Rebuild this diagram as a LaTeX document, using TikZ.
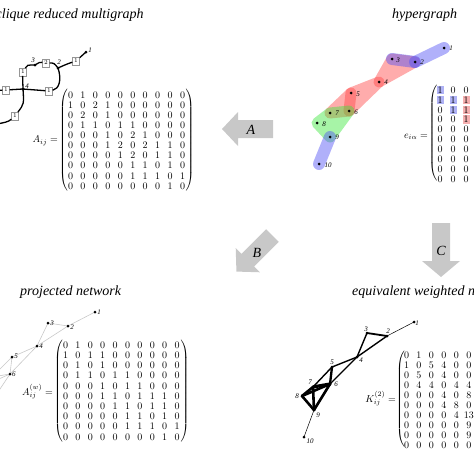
\documentclass[tikz,border=0pt]{standalone}
\usepackage{fontspec}
\newfontfamily\tms{Liberation Serif}
\usetikzlibrary{calc}
\definecolor{arrowgray}{RGB}{200,200,200}
\definecolor{hblue}{RGB}{80,80,245}
\definecolor{hred}{RGB}{255,70,70}
\definecolor{hgreen}{RGB}{60,230,60}
\definecolor{pgray}{RGB}{200,200,200}
\definecolor{boxblue}{RGB}{175,178,245}
\definecolor{boxred}{RGB}{245,175,175}
\definecolor{wboxgray}{RGB}{150,150,150}

\newcommand\mymat[6]{%
  \foreach \mrow [count=\mi] in {#6} {%
    \foreach \mval [count=\mj] in \mrow {%
      \node[ent] (#1-\mi-\mj) at ({#2+(\mj-1)*#4},{#3+(\mi-1)*#5}) {$\mval$};
    }%
  }%
}

\begin{document}
\begin{tikzpicture}[x=1pt,y=-1pt,
  title/.style={font=\tms\itshape\fontsize{14}{16}\selectfont, anchor=base west, inner sep=0pt},
  dot/.style={circle, fill=black, inner sep=0pt, minimum size=3pt},
  lbl/.style={font=\tms\itshape\fontsize{7}{7}\selectfont, inner sep=0pt},
  wbox/.style={draw=wboxgray, fill=white, line width=0.4pt, inner sep=0pt, minimum width=7pt, minimum height=7.5pt, font=\fontsize{6}{6}\selectfont},
  ent/.style={font=\fontsize{10}{11}\selectfont, inner sep=0pt},
  zs/.style={},
  bs/.style={fill=boxblue, minimum width=7pt, minimum height=8.5pt},
  rs/.style={fill=boxred, minimum width=7pt, minimum height=8.5pt},
  matlbl/.style={font=\fontsize{10}{11}\selectfont, anchor=east, inner sep=0pt},
  paren/.style={inner sep=0pt, font=\fontsize{10}{11}\selectfont},
  arrlbl/.style={font=\tms\itshape\fontsize{14}{16}\selectfont, inner sep=0pt},
  blockarrow/.style={fill=arrowgray},
  medge/.style={line width=1.3pt, black},
  pedge/.style={line width=0.6pt, pgray},
  hedge/.style={line width=12pt, line cap=round, line join=round},
]
\useasboundingbox (0,0) rectangle (474,474);
\clip (0,0) rectangle (474,474);

% ---------- titles ----------
\node[title] (t1) at (-4.5,18) {clique reduced multigraph};
\node[title] (t2) at (392,18) {hypergraph};
\node[title] (t3) at (20,295) {projected network};
\node[title] (t4) at (352,295) {equivalent weighted network};

% ---------- block arrows ----------
\fill[blockarrow, shift={(273,129)}, rotate=180] (0,-9) -- (35,-9) -- (35,-17) -- (51,0) -- (35,17) -- (35,9) -- (0,9) -- cycle;
\node[arrlbl] (la) at (251,130) {A};
\fill[blockarrow, shift={(272.5,235.5)}, rotate=225] (0,-9) -- (35,-9) -- (35,-17) -- (51,0) -- (35,17) -- (35,9) -- (0,9) -- cycle;
\node[arrlbl] (lb) at (257,253) {B};
\fill[blockarrow, shift={(441,223)}, rotate=270] (0,-9) -- (38,-9) -- (38,-19) -- (54,0) -- (38,19) -- (38,9) -- (0,9) -- cycle;
\node[arrlbl] (lc) at (441,251) {C};

% ---------- clique reduced multigraph ----------
\coordinate (m1) at (86,52);
\coordinate (m2) at (58,68);
\coordinate (m3) at (35,65);
\coordinate (m4) at (23,89);
\coordinate (m5) at (-20,91);
\coordinate (m6) at (-14,126);
\node[wbox] (w12) at (76,61) {1};
\node[wbox] (w23) at (46,63) {2};
\node[wbox] (w34) at (23,72) {1};
\node[wbox] (w24) at (49,91) {1};
\node[wbox] (w45) at (6,90) {1};
\node[wbox] (w46) at (15,116) {1};
\draw[medge] (m1) -- (w12);
\draw[medge] (w12) .. controls (67,64) .. (m2);
\draw[medge] (m2) .. controls (54,63) .. (w23);
\draw[medge] (w23) .. controls (40,62) .. (m3);
\draw[medge] (m3) .. controls (27,65) .. (w34);
\draw[medge] (w34) .. controls (22,82) .. (m4);
\draw[medge] (m2) .. controls (62,80) and (59,89) .. (w24);
\draw[medge] (w24) -- (m4);
\draw[medge] (m4) -- (w45);
\draw[medge] (w45) -- (m5);
\draw[medge] (m4) .. controls (24,104) .. (w46);
\draw[medge] (w46) .. controls (8,122) .. (m6);
\node[dot] (md1) at (m1) {};
\node[dot] (md2) at (m2) {};
\node[dot] (md3) at (m3) {};
\node[dot] (md4) at (m4) {};
\node[lbl] (ml1) at (90,50) {1};
\node[lbl] (ml2) at (59,62) {2};
\node[lbl] (ml3) at (33,60) {3};
\node[lbl] (ml4) at (27,86) {4};

% matrix A
\node[matlbl] (Alab) at (58,141) {$A_{ij}=$};
\node[paren] (Alp) at (64,140.5) {$\left(\vrule height 49pt depth 49pt width 0pt\right.$};
\node[paren] (Arp) at (189.5,140.5) {$\left.\vrule height 49pt depth 49pt width 0pt\right)$};
\mymat{A}{70.5}{95}{12.45}{10.1}{%
{0,1,0,0,0,0,0,0,0,0},
{1,0,2,1,0,0,0,0,0,0},
{0,2,0,1,0,0,0,0,0,0},
{0,1,1,0,1,1,0,0,0,0},
{0,0,0,1,0,2,1,0,0,0},
{0,0,0,1,2,0,2,1,1,0},
{0,0,0,0,1,2,0,1,1,0},
{0,0,0,0,0,1,1,0,1,0},
{0,0,0,0,0,1,1,1,0,1},
{0,0,0,0,0,0,0,0,1,0}}

% ---------- hypergraph ----------
\coordinate (h1) at (444,48);
\coordinate (h2) at (415,62);
\coordinate (h3) at (392,59);
\coordinate (h4) at (379,82);
\coordinate (h5) at (351,93);
\coordinate (h6) at (349,111);
\coordinate (h7) at (330,113);
\coordinate (h8) at (317,123);
\coordinate (h9) at (330,137);
\coordinate (h10) at (319,164);
\begin{scope}[transparency group, opacity=0.45]
  \filldraw[hedge, hred, line width=11pt] (h2) -- (h3) -- (h4) -- cycle;
\end{scope}
\begin{scope}[transparency group, opacity=0.45]
  \filldraw[hedge, hred, line width=11pt] (h4) -- (h5) -- (h6) -- cycle;
\end{scope}
\begin{scope}[transparency group, opacity=0.45]
  \filldraw[hedge, hred, line width=11pt] (h5) -- (h7) -- (h6) -- cycle;
\end{scope}
\begin{scope}[transparency group, opacity=0.45]
  \filldraw[hedge, hgreen, line width=11pt] (h8) -- (h7) -- (h6) -- (h9) -- cycle;
\end{scope}
\begin{scope}[transparency group, opacity=0.45]
  \draw[hedge, hblue] (h1) -- (h2);
\end{scope}
\begin{scope}[transparency group, opacity=0.45]
  \draw[hedge, hblue] (h2) -- (h3);
\end{scope}
\begin{scope}[transparency group, opacity=0.45]
  \draw[hedge, hblue] (h9) -- (h10);
\end{scope}
\foreach \n in {1,...,10} { \node[dot] (hd\n) at (h\n) {}; }
\node[lbl] (hl1) at (451,48) {1};
\node[lbl] (hl2) at (422,62) {2};
\node[lbl] (hl3) at (398,60) {3};
\node[lbl] (hl4) at (386,82) {4};
\node[lbl] (hl5) at (358,94) {5};
\node[lbl] (hl6) at (356,112) {6};
\node[lbl] (hl7) at (337,113) {7};
\node[lbl] (hl8) at (324,124) {8};
\node[lbl] (hl9) at (337,137) {9};
\node[lbl] (hl10) at (328,165) {10};

% matrix e
\node[matlbl] (elab) at (428,137) {$e_{i\alpha}=$};
\node[paren] (elp) at (433.5,134.5) {$\left(\vrule height 48pt depth 48pt width 0pt\right.$};
\foreach \mrow [count=\mi] in {%
{bs/1,zs/0,zs/0},
{bs/1,bs/1,rs/1},
{zs/0,bs/1,rs/1},
{zs/0,zs/0,rs/1},
{zs/0,zs/0,zs/0},
{zs/0,zs/0,zs/0},
{zs/0,zs/0,zs/0},
{zs/0,zs/0,zs/0},
{zs/0,zs/0,zs/0},
{zs/0,zs/0,zs/0}} {%
  \foreach \sty/\mval [count=\mj] in \mrow {%
    \node[ent,\sty] (e-\mi-\mj) at ({440+(\mj-1)*13},{90+(\mi-1)*9.9}) {$\mval$};
  }%
}

% ---------- projected network ----------
\coordinate (p1) at (95,312);
\coordinate (p2) at (68,326);
\coordinate (p3) at (48,323);
\coordinate (p4) at (37,346);
\coordinate (p5) at (12,357);
\coordinate (p6) at (10,374);
\coordinate (p7) at (-8,377);
\coordinate (p8) at (-19,387);
\coordinate (p9) at (-8,401);
\coordinate (p10) at (-18,428);
\foreach \a/\b in {1/2,2/3,2/4,3/4,4/5,4/6,5/6,5/7,6/7,6/8,6/9,7/8,7/9,8/9,9/10} {
  \draw[pedge] (p\a) -- (p\b);
}
\foreach \n in {1,...,10} { \node[dot] (pd\n) at (p\n) {}; }
\node[lbl] (pl1) at (99,312) {1};
\node[lbl] (pl2) at (72,327) {2};
\node[lbl] (pl3) at (52,323) {3};
\node[lbl] (pl4) at (41,346) {4};
\node[lbl] (pl5) at (16,356) {5};
\node[lbl] (pl6) at (14,374) {6};

% matrix A^(w)
\node[matlbl] (Pwlab) at (53,392) {$A^{(w)}_{ij}=$};
\node[paren] (Plp) at (59,391) {$\left(\vrule height 49pt depth 49pt width 0pt\right.$};
\node[paren] (Prp) at (184.5,391) {$\left.\vrule height 49pt depth 49pt width 0pt\right)$};
\mymat{P}{65.5}{345}{12.4}{10.2}{%
{0,1,0,0,0,0,0,0,0,0},
{1,0,1,1,0,0,0,0,0,0},
{0,1,0,1,0,0,0,0,0,0},
{0,1,1,0,1,1,0,0,0,0},
{0,0,0,1,0,1,1,0,0,0},
{0,0,0,1,1,0,1,1,1,0},
{0,0,0,0,1,1,0,1,1,0},
{0,0,0,0,0,1,1,0,1,0},
{0,0,0,0,0,1,1,1,0,1},
{0,0,0,0,0,0,0,0,1,0}}

% ---------- equivalent weighted network ----------
\coordinate (k1) at (414,322);
\coordinate (k2) at (387,336);
\coordinate (k3) at (367,333);
\coordinate (k4) at (357,357);
\coordinate (k5) at (332,367);
\coordinate (k6) at (330,384);
\coordinate (k7) at (313,387);
\coordinate (k8) at (302,396);
\coordinate (k9) at (314,410);
\coordinate (k10) at (304,437);
\begin{scope}[line cap=round, line join=round]
\draw[line width=0.5pt] (k1) -- (k2);
\draw[line width=1.8pt] (k2) -- (k3);
\draw[line width=1.4pt] (k2) -- (k4);
\draw[line width=1.4pt] (k3) -- (k4);
\draw[line width=1.4pt] (k4) -- (k5);
\draw[line width=1.4pt] (k4) -- (k6);
\draw[line width=2.3pt] (k5) -- (k6);
\draw[line width=1.4pt] (k5) -- (k7);
\draw[line width=3.2pt] (k6) -- (k7);
\draw[line width=2.6pt] (k6) -- (k8);
\draw[line width=2.6pt] (k6) -- (k9);
\draw[line width=2.6pt] (k7) -- (k8);
\draw[line width=2.6pt] (k7) -- (k9);
\draw[line width=2.6pt] (k8) -- (k9);
\draw[line width=0.5pt] (k9) -- (k10);
\end{scope}
\foreach \n in {1,...,10} { \node[dot] (kd\n) at (k\n) {}; }
\node[lbl] (kl1) at (417,323) {1};
\node[lbl] (kl2) at (388,331) {2};
\node[lbl] (kl3) at (366,329) {3};
\node[lbl] (kl4) at (361,360) {4};
\node[lbl] (kl5) at (332,362) {5};
\node[lbl] (kl6) at (336,384) {6};
\node[lbl] (kl7) at (310,382) {7};
\node[lbl] (kl8) at (297,396) {8};
\node[lbl] (kl9) at (318,415) {9};
\node[lbl] (kl10) at (310,441) {10};

% matrix K
\node[matlbl] (Klab) at (396,399) {$K^{(2)}_{ij}=$};
\node[paren] (Klp) at (401,400) {$\left(\vrule height 48pt depth 48pt width 0pt\right.$};
\mymat{K}{406.5}{355}{12.45}{10}{%
{0,1,0,0,0,0,0,0,0,0},
{1,0,5,4,0,0,0,0,0,0},
{0,5,0,4,0,0,0,0,0,0},
{0,4,4,0,4,4,0,0,0,0},
{0,0,0,4,0,8,4,0,0,0},
{0,0,0,4,8,0,13,9,9,0},
{0,0,0,0,4,13,0,9,9,0},
{0,0,0,0,0,9,9,0,9,0},
{0,0,0,0,0,9,9,9,0,1},
{0,0,0,0,0,0,0,0,1,0}}
\end{tikzpicture}
\end{document}
